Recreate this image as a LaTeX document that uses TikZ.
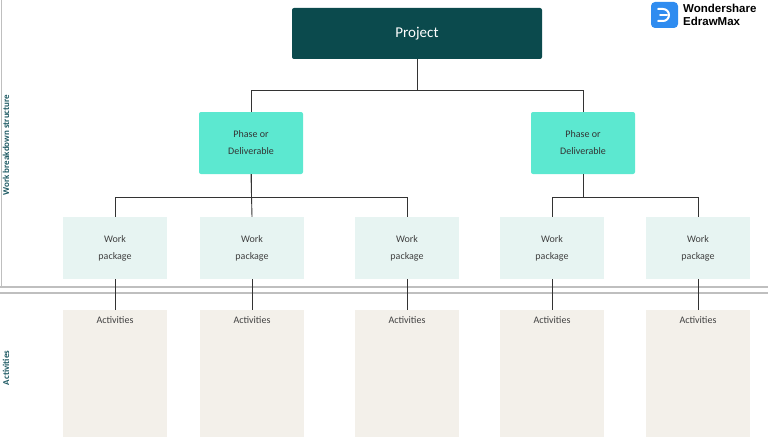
\documentclass[tikz,border=0pt]{standalone}
\usepackage{fontspec}
\setmainfont{Carlito}
\newfontfamily\logofont{Liberation Sans}
\begin{document}
\begin{tikzpicture}[x=1pt,y=-1pt,
  proj/.style={fill=projc,rounded corners=2pt,text=white,font=\fontsize{15}{17}\selectfont},
  phase/.style={fill=phasec,rounded corners=2pt,text=black!80,align=center,font=\fontsize{10}{17}\selectfont},
  wp/.style={fill=wpc,align=center,text=black!75,font=\fontsize{10}{17}\selectfont},
  act/.style={fill=actc},
  con/.style={draw=black!80,line width=0.9pt},
  side/.style={rotate=90,text=labc,font=\bfseries\fontsize{9}{10}\selectfont}]
\definecolor{projc}{HTML}{0B4A4D}
\definecolor{phasec}{HTML}{5CE8D0}
\definecolor{wpc}{HTML}{E7F4F2}
\definecolor{actc}{HTML}{F3F0EA}
\definecolor{labc}{HTML}{1E5A63}
\definecolor{logoc}{HTML}{2F8CF0}
\useasboundingbox (0,0) rectangle (768,444);
% frame lines
\draw[black!25,line width=0.8pt] (1,0) -- (1,287);
\draw[black!25,line width=1.2pt] (0,287) -- (768,287);
\draw[black!25,line width=1.2pt] (0,293) -- (768,293);
% boxes
\path[proj] (292,8) rectangle (542,59);
\node[text=white,font=\fontsize{15}{17}\selectfont] (p) at (417,33.5) {Project};
\coordinate (pb) at (417,59);
\foreach \n/\x in {a/251,b/583}{
  \path[phase] (\x-52,112) rectangle (\x+52,174);
  \node[phase,fill=none,minimum width=104pt,minimum height=62pt] (ph\n) at (\x,143) {Phase or\\Deliverable};
}
\foreach \n/\x in {1/115,2/252,3/407,4/552,5/698}{
  \node[wp,minimum width=104pt,minimum height=62pt,inner sep=0pt] (w\n) at (\x,248) {Work\\package};
  \node[act,minimum width=104pt,minimum height=127pt,inner sep=0pt] (a\n) at (\x,373.5) {};
  \node[text=black!75,font=\fontsize{10}{12}\selectfont,anchor=north] at (\x,313) {Activities};
  \draw[con] (w\n.south) -- (a\n.north);
}
% connectors
\draw[con] (pb) -- ++(0,31) -| (pha.north);
\draw[con] (pb) ++(0,31) -| (phb.north);
\draw[con] (pha.south) -- ++(0,23) -| (w1.north);
\draw[con] (pha.south) ++(0,23) -| (w3.north);
\draw[con] (pha.south) -- (w2.north);
\draw[con] (phb.south) -- ++(0,23) -| (w4.north);
\draw[con] (phb.south) ++(0,23) -| (w5.north);
% side labels
\node[side] (l1) at (6,145) {Work breakdown structure};
\node[side] (l2) at (6,368) {Activities};
% logo
\fill[logoc,rounded corners=4pt] (651,2) rectangle (678,28);
\draw[white,line width=2pt,line cap=round] (658,9) -- (663,9) arc (-90:90:6) -- (658,21);
\draw[white,line width=2pt,line cap=round] (660,15) -- (667,15);
\node[anchor=west,align=left,font=\logofont\bfseries\fontsize{11.5}{12.5}\selectfont,inner sep=0pt] (logo) at (683,15) {Wondershare\\EdrawMax};
\end{tikzpicture}
\end{document}
